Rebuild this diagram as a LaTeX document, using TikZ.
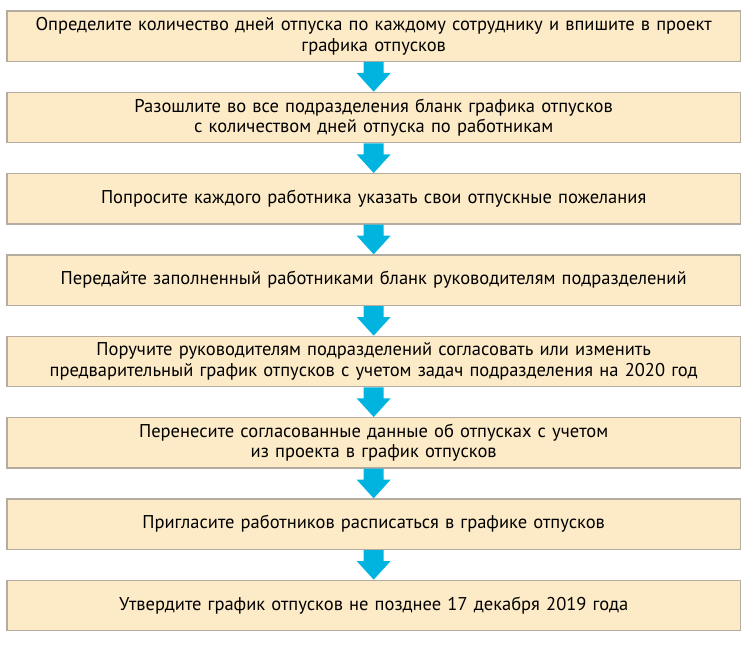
\documentclass[tikz,border=0pt]{standalone}
\usepackage{fontspec}
\setmainfont{PT Sans}
\usetikzlibrary{positioning,calc}
\definecolor{boxfill}{HTML}{FDEBC8}
\definecolor{boxline}{HTML}{B4ACA0}
\definecolor{arrowcyan}{HTML}{00B4DF}
\begin{document}
\begin{tikzpicture}[node distance=0.89cm,font=\fontsize{15.8}{17.5}\selectfont]

	\tikzstyle{stepbox}=[rectangle, minimum width=22.0cm, minimum height=1.51cm,
	text width=21.5cm, align=center, fill=boxfill, draw=boxline, line width=0.4mm, inner sep=0pt]

	\useasboundingbox (0,0) rectangle (22.44,-19.38);

	%steps
	\node[stepbox, anchor=north west] (define) at (0.19,-0.31)
	{Определите количество дней отпуска по каждому сотруднику и впишите в проект\\графика отпусков};

	\node[stepbox] (send) [below=of define]
	{Разошлите во все подразделения бланк графика отпусков\\с количеством дней отпуска по работникам};

	\node[stepbox] (ask) [below=of send]
	{Попросите каждого работника указать свои отпускные пожелания};

	\node[stepbox] (pass) [below=of ask]
	{Передайте заполненный работниками бланк руководителям подразделений};

	\node[stepbox] (agree) [below=of pass]
	{Поручите руководителям подразделений согласовать или изменить\\предварительный график отпусков с учетом задач подразделения на 2020 год};

	\node[stepbox] (transfer) [below=of agree]
	{Перенесите согласованные данные об отпусках с учетом\\из проекта в график отпусков};

	\node[stepbox] (sign) [below=of transfer]
	{Пригласите работников расписаться в графике отпусков};

	\node[stepbox] (approve) [below=of sign]
	{Утвердите график отпусков не позднее 17 декабря 2019 года};

	%arrows
	\foreach \a/\b in {define/send, send/ask, ask/pass, pass/agree, agree/transfer, transfer/sign, sign/approve}
	{
		\fill[arrowcyan] ($(\a.south)+(-0.3,0)$) -- ($(\a.south)+(0.3,0)$)
			-- ($(\a.south)+(0.3,-0.33)$) -- ($(\a.south)+(0.51,-0.33)$)
			-- (\b.north) -- ($(\a.south)+(-0.51,-0.33)$)
			-- ($(\a.south)+(-0.3,-0.33)$) -- cycle;
	}

\end{tikzpicture}
\end{document}
